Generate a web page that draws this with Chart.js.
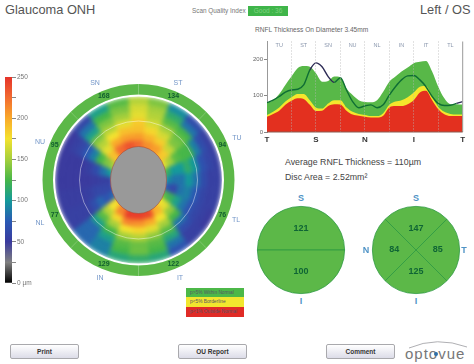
<!DOCTYPE html>
<html lang="en">
  <head>
    <meta charset="utf-8" />
    <title>Glaucoma ONH</title>
    <style>
      * {
        margin: 0;
        padding: 0;
        box-sizing: border-box;
        font-family: "Liberation Sans", Arial, sans-serif;
      }
      html {
        background: white;
      }
      body {
        position: relative;
        width: 474px;
        height: 364px;
        overflow: hidden;
        background: white;
        filter: blur(0.45px);
      }
      canvas,
      .t,
      .btn,
      .key {
        position: absolute;
        white-space: nowrap;
      }
      .blue {
        color: #4f93c6;
        font-weight: bold;
        font-size: 9px;
        transform: translate(-50%, -50%);
      }
      .dir {
        color: #7396c8;
        font-size: 7px;
        transform: translate(-50%, -50%);
      }
      .btn {
        top: 344px;
        width: 69px;
        height: 15px;
        border: 1px solid #a9a9ad;
        border-radius: 2px;
        background: linear-gradient(#ffffff, #dcdce8);
        color: #333;
        font-size: 6.5px;
        font-weight: bold;
        line-height: 13px;
        text-align: center;
      }
      .key {
        left: 186px;
        width: 58px;
        padding-left: 4px;
        font-size: 4.8px;
        color: #556;
      }
    </style>
  </head>
  <body>
    <div class="t" style="left: 5px; top: 2px; font-size: 12.8px; color: #555">Glaucoma ONH</div>
    <div class="t" style="left: 420px; top: 2px; font-size: 12.8px; color: #555">Left / OS</div>
    <div class="t" style="left: 192px; top: 7px; font-size: 6.4px; color: #777">Scan Quality Index</div>
    <div class="t" style="left: 248px; top: 6px; width: 40px; height: 10px; background: #3fb54a; color: #7fd27f; font-size: 6.5px; line-height: 10px; text-align: center">Good : 36</div>
    <div class="t" style="left: 255px; top: 26px; font-size: 6.6px; color: #666">RNFL Thickness On Diameter 3.45mm</div>

    <canvas id="barChart" width="50" height="220" style="left: 0; top: 70px"></canvas>
    <canvas id="mapChart" width="193" height="192" style="left: 42px; top: 84px; filter: blur(2.2px)"></canvas>
    <canvas id="bandChart" width="193" height="192" style="left: 42px; top: 84px"></canvas>
    <canvas id="lineChart" width="229" height="116" style="left: 245px; top: 34px"></canvas>
    <canvas id="hemiChart" width="90" height="90" style="left: 256px; top: 205px"></canvas>
    <canvas id="quadChart" width="90" height="90" style="left: 371px; top: 205px"></canvas>

    <div class="t dir" style="left: 95px; top: 82px">SN</div>
    <div class="t dir" style="left: 178px; top: 82px">ST</div>
    <div class="t dir" style="left: 237px; top: 137px">TU</div>
    <div class="t dir" style="left: 236px; top: 219px">TL</div>
    <div class="t dir" style="left: 180px; top: 277px">IT</div>
    <div class="t dir" style="left: 100px; top: 277px">IN</div>
    <div class="t dir" style="left: 40px; top: 222px">NL</div>
    <div class="t dir" style="left: 40px; top: 141px">NU</div>

    <div class="t" style="left: 285px; top: 157px; font-size: 8.8px; color: #444">Average RNFL Thickness = 110µm</div>
    <div class="t" style="left: 285px; top: 172px; font-size: 8.8px; color: #444">Disc Area = 2.52mm²</div>

    <div class="t blue" style="left: 301px; top: 198px">S</div>
    <div class="t blue" style="left: 301px; top: 301px">I</div>
    <div class="t blue" style="left: 416px; top: 198px">S</div>
    <div class="t blue" style="left: 416px; top: 301px">I</div>
    <div class="t blue" style="left: 366px; top: 250px">N</div>
    <div class="t blue" style="left: 464px; top: 250px">T</div>

    <div class="key" style="top: 288px; height: 9px; line-height: 9px; background: #4cb848">p&gt;5% Within Normal</div>
    <div class="key" style="top: 297px; height: 10px; line-height: 10px; background: #f2e62e">p&lt;5% Borderline</div>
    <div class="key" style="top: 307px; height: 10px; line-height: 10px; background: #e02b26">p&lt;1% Outside Normal</div>

    <div class="btn" style="left: 10px">Print</div>
    <div class="btn" style="left: 178px">OU Report</div>
    <div class="btn" style="left: 326px">Comment</div>

    <svg width="70" height="10" style="position: absolute; left: 403px; top: 339px">
      <path d="M6 9 Q34 -3 64 8" fill="none" stroke="#9a9aa0" stroke-width="0.8" />
    </svg>
    <div class="t" style="left: 405px; top: 345px; font-size: 15px; letter-spacing: 1px; color: #777">optovue</div>
    <div class="t" style="left: 434px; top: 351.5px; width: 4px; height: 4px; border-radius: 50%; background: #2f6fa8"></div>

    <script src="https://cdn.jsdelivr.net/npm/chart.js"></script>
    <script>
      // TSNIT profile, 33 samples, left T to right T (microns)
      const greenTop = [81, 88, 105, 130, 153, 176, 182, 180, 162, 139, 141, 153, 151, 120, 102, 88, 83, 82, 88, 111, 139, 153, 167, 178, 190, 194, 196, 167, 125, 93, 77, 77, 76];
      const yellowTop = [47, 56, 68, 84, 96, 105, 105, 88, 68, 65, 79, 88, 88, 68, 56, 50, 47, 44, 44, 52, 75, 84, 88, 96, 109, 125, 127, 98, 70, 56, 50, 48, 48];
      const redTop = [42, 50, 59, 75, 86, 93, 91, 75, 58, 59, 72, 77, 76, 59, 48, 45, 42, 40, 40, 45, 68, 72, 72, 77, 88, 109, 114, 88, 63, 49, 44, 44, 44];
      const measured = [81, 88, 98, 110, 116, 118, 130, 171, 191, 180, 153, 137, 150, 116, 84, 67, 72, 75, 67, 75, 102, 125, 144, 155, 156, 144, 125, 98, 79, 73, 74, 79, 84];
      const quadrantLabels = ["T", "S", "N", "I", "T"];
      const sectorLabels = ["TU", "ST", "SN", "NU", "NL", "IN", "IT", "TL"];

      // thickness map, one list per ring (inner to outer), 24 sectors clockwise from the top
      const ring0 = [225, 215, 205, 190, 170, 120, 95, 70, 130, 175, 200, 240, 245, 245, 215, 180, 80, 60, 55, 100, 150, 190, 225, 235];
      const ring1 = [225, 210, 205, 185, 150, 100, 85, 60, 120, 170, 195, 240, 245, 245, 215, 175, 70, 60, 55, 85, 140, 190, 225, 235];
      const ring2 = [205, 195, 185, 160, 130, 100, 85, 85, 105, 145, 175, 200, 210, 215, 180, 155, 80, 60, 52, 65, 125, 170, 200, 205];
      const ring3 = [190, 180, 165, 140, 125, 115, 100, 90, 85, 125, 150, 170, 180, 175, 150, 130, 65, 55, 50, 55, 90, 155, 175, 190];
      const ring4 = [185, 165, 150, 135, 125, 100, 85, 75, 70, 85, 130, 145, 155, 150, 125, 105, 55, 52, 50, 50, 75, 140, 155, 170];
      const ring5 = [170, 155, 130, 125, 90, 70, 65, 60, 60, 65, 110, 130, 135, 130, 105, 80, 55, 52, 50, 50, 60, 105, 140, 150];
      const ring6 = [165, 150, 115, 85, 65, 60, 55, 55, 55, 55, 85, 125, 135, 125, 90, 80, 55, 52, 50, 50, 55, 85, 125, 140];
      const ring7 = [155, 140, 95, 65, 55, 55, 55, 55, 50, 55, 70, 110, 115, 110, 90, 80, 55, 52, 50, 50, 50, 60, 105, 130];

      // sector averages, clockwise starting at ST / S
      const bandValues = [134, 94, 76, 122, 129, 77, 95, 168];
      const hemiValues = [121, 100];
      const quadValues = [147, 85, 125, 84];

      // colour bar
      const scaleStops = [0, 25, 50, 75, 100, 125, 150, 175, 200, 225, 250];
      const scaleColors = ["#000000", "#808080", "#3a3a9e", "#2a5ab4", "#149a9a", "#46b648", "#a5cf3c", "#f4e22e", "#f9a92a", "#f26b30", "#e5332a"];

      function hexToRgb(hex) {
        return [1, 3, 5].map((i) => parseInt(hex.slice(i, i + 2), 16));
      }

      function colorFor(v) {
        let i = 0;
        while (i < scaleStops.length - 2 && v > scaleStops[i + 1]) i++;
        const f = (v - scaleStops[i]) / (scaleStops[i + 1] - scaleStops[i]);
        const a = hexToRgb(scaleColors[i]);
        const b = hexToRgb(scaleColors[i + 1]);
        const c = a.map((n, k) => Math.round(n + (b[k] - n) * f));
        return `rgb(${c[0]}, ${c[1]}, ${c[2]})`;
      }

      // colour bar chart
      new Chart(document.getElementById("barChart"), {
        type: "bar",
        data: {
          labels: [""],
          datasets: [
            {
              data: [scaleStops[scaleStops.length - 1]],
              barPercentage: 1,
              categoryPercentage: 1,
              backgroundColor(ctx) {
                const { chartArea, scales, ctx: c } = ctx.chart;
                if (!chartArea) return "#888";
                const g = c.createLinearGradient(0, scales.y.getPixelForValue(0), 0, scales.y.getPixelForValue(250));
                scaleStops.forEach((s, i) => g.addColorStop(s / 250, scaleColors[i]));
                return g;
              },
            },
          ],
        },
        options: {
          responsive: false,
          animation: false,
          layout: { padding: { left: 5, top: 7, bottom: 7 } },
          plugins: { legend: { display: false }, tooltip: { enabled: false } },
          scales: {
            x: { display: false },
            y: {
              position: "right",
              min: 0,
              max: 250,
              afterFit(scale) {
                scale.width = 38;
              },
              border: { display: false },
              grid: { drawOnChartArea: false, tickLength: 4, color: "#888" },
              ticks: {
                stepSize: 25,
                autoSkip: false,
                padding: 1,
                color: "#777",
                font: { size: 6.5 },
                callback: (v) => (v === 0 ? "0 µm" : v % 50 === 0 ? v : ""),
              },
            },
          },
        },
      });

      // thickness map, rings of equal sectors coloured by value.
      // chart.js puts dataset 0 on the outside, so the list runs outer to inner
      const mapRings = [ring7, ring6, ring5, ring4, ring3, ring2, ring1, ring0];
      new Chart(document.getElementById("mapChart"), {
        type: "doughnut",
        data: {
          labels: ring0.map((_, i) => i * 15),
          datasets: mapRings.map((ring) => ({
            data: ring.map(() => 1),
            backgroundColor: ring.map(colorFor),
            borderColor: ring.map(colorFor),
            borderWidth: 1,
          })),
        },
        options: {
          responsive: false,
          animation: false,
          rotation: -7.5,
          cutout: 26,
          layout: { padding: 12.5 },
          plugins: { legend: { display: false }, tooltip: { enabled: false } },
        },
      });

      // outer band with sector values, plus the disc and the thin guide circle
      const bandPlugin = {
        id: "bandPlugin",
        afterDraw(chart) {
          const { ctx } = chart;
          const arcs = chart.getDatasetMeta(0).data;
          const cx = arcs[0].x;
          const cy = arcs[0].y;
          ctx.save();
          ctx.beginPath();
          ctx.arc(cx, cy, 59, 0, Math.PI * 2);
          ctx.strokeStyle = "rgba(255, 255, 255, 0.55)";
          ctx.lineWidth = 0.8;
          ctx.stroke();
          ctx.beginPath();
          ctx.ellipse(cx, cy, 28, 33.5, 0, 0, Math.PI * 2);
          ctx.fillStyle = "#999999";
          ctx.fill();
          ctx.strokeStyle = "rgba(170, 70, 50, 0.7)";
          ctx.lineWidth = 0.8;
          ctx.stroke();
          ctx.fillStyle = "#12602f";
          ctx.font = "bold 7px 'Liberation Sans'";
          ctx.textAlign = "center";
          ctx.textBaseline = "middle";
          arcs.forEach((arc, i) => {
            const p = arc.getCenterPoint();
            ctx.fillText(bandValues[i], p.x, p.y);
          });
          ctx.restore();
        },
      };
      new Chart(document.getElementById("bandChart"), {
        type: "doughnut",
        data: {
          labels: bandValues,
          datasets: [
            { data: bandValues.map(() => 1), backgroundColor: "#5cb848", borderWidth: 0, weight: 10.5 },
            { data: [1], backgroundColor: "#ffffff", borderWidth: 0, weight: 2 },
          ],
        },
        options: {
          responsive: false,
          animation: false,
          cutout: 83.5,
          plugins: { legend: { display: false }, tooltip: { enabled: false } },
        },
        plugins: [bandPlugin],
      });

      // sector names along the top of the TSNIT plot, right hand axis line and baseline
      const sectorNames = {
        id: "sectorNames",
        afterDraw(chart) {
          const { ctx, chartArea, scales } = chart;
          ctx.save();
          ctx.fillStyle = "#8a97ad";
          ctx.font = "5.5px 'Liberation Sans'";
          ctx.textAlign = "center";
          sectorLabels.forEach((name, i) => {
            ctx.fillText(name, scales.x.getPixelForValue(2 + i * 4), chartArea.top + 5);
          });
          ctx.beginPath();
          ctx.moveTo(chartArea.right, chartArea.top);
          ctx.lineTo(chartArea.right, chartArea.bottom);
          ctx.strokeStyle = "#999";
          ctx.lineWidth = 1;
          ctx.stroke();
          ctx.beginPath();
          ctx.moveTo(chartArea.left, chartArea.bottom);
          ctx.lineTo(chartArea.right, chartArea.bottom);
          ctx.strokeStyle = "#8a5a50";
          ctx.stroke();
          ctx.restore();
        },
      };

      const toPoints = (list) => list.map((y, x) => ({ x, y }));
      const band = (list, color) => ({
        data: toPoints(list),
        borderWidth: 0,
        pointRadius: 0,
        cubicInterpolationMode: "monotone",
        backgroundColor: color,
        fill: "origin",
      });

      new Chart(document.getElementById("lineChart"), {
        type: "line",
        data: {
          datasets: [
            {
              data: toPoints(measured),
              borderWidth: 1.4,
              pointRadius: 0,
              cubicInterpolationMode: "monotone",
              fill: false,
              segment: {
                borderColor: (ctx) => (measured[ctx.p0DataIndex] > greenTop[ctx.p0DataIndex] + 2 || measured[ctx.p1DataIndex] > greenTop[ctx.p1DataIndex] + 2 ? "#2c2a55" : "#0f6e34"),
              },
            },
            band(redTop, "#e3301f"),
            band(yellowTop, "#f5e62c"),
            band(greenTop, "#58b848"),
          ],
        },
        options: {
          responsive: false,
          animation: false,
          layout: { padding: { left: 0, right: 11.3, top: 7.5, bottom: 0 } },
          plugins: { legend: { display: false }, tooltip: { enabled: false } },
          scales: {
            x: {
              type: "linear",
              min: 0,
              max: 32,
              afterFit(scale) {
                scale.height = 18;
              },
              border: { display: false, dash: [1, 2] },
              grid: {
                z: 1,
                drawTicks: false,
                lineWidth: 0.8,
                color: (ctx) => (ctx.tick && ctx.tick.value > 0 && ctx.tick.value < 32 ? "#b5b5b5" : "rgba(0, 0, 0, 0)"),
              },
              ticks: {
                stepSize: 4,
                autoSkip: false,
                maxRotation: 0,
                padding: 3,
                color: "#333",
                font: { size: 8, weight: "bold" },
                callback: (v) => (v % 8 === 0 ? quadrantLabels[v / 8] : ""),
              },
            },
            y: {
              min: 0,
              max: 250,
              afterFit(scale) {
                scale.width = 22;
              },
              border: { color: "#999" },
              grid: { drawOnChartArea: false, tickLength: 3, color: "#888" },
              ticks: {
                stepSize: 100,
                includeBounds: false,
                padding: 1,
                color: "#666",
                font: { size: 6 },
              },
            },
          },
        },
        plugins: [sectorNames],
      });

      // value labels inside the small circles
      const sliceValues = {
        id: "sliceValues",
        afterDraw(chart) {
          const { ctx } = chart;
          const list = chart.data.datasets[0].values;
          ctx.save();
          ctx.fillStyle = "#0f6535";
          ctx.font = "bold 9px 'Liberation Sans'";
          ctx.textAlign = "center";
          ctx.textBaseline = "middle";
          chart.getDatasetMeta(0).data.forEach((arc, i) => {
            const p = arc.getCenterPoint();
            ctx.fillText(list[i], p.x, p.y);
          });
          ctx.restore();
        },
      };

      function sectorPie(id, values, rotation) {
        new Chart(document.getElementById(id), {
          type: "pie",
          data: {
            labels: values,
            datasets: [
              {
                values,
                data: values.map(() => 1),
                backgroundColor: "#5cb848",
                borderColor: "#2f9a42",
                borderWidth: 0.8,
              },
            ],
          },
          options: {
            responsive: false,
            animation: false,
            rotation,
            layout: { padding: 1 },
            plugins: { legend: { display: false }, tooltip: { enabled: false } },
          },
          plugins: [sliceValues],
        });
      }

      sectorPie("hemiChart", hemiValues, -90);
      sectorPie("quadChart", quadValues, -45);
    </script>
  </body>
</html>
